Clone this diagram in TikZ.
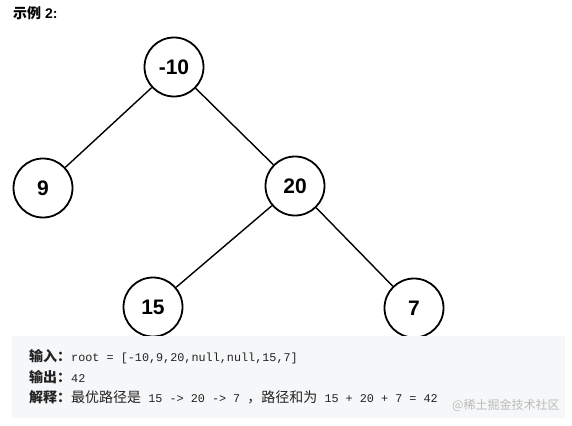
\documentclass[tikz,border=0pt]{standalone}
\usepackage{fontspec}
\setmainfont{Liberation Sans}
\setmonofont{Liberation Mono}
\newfontfamily\cjk{Noto Sans CJK SC}
\definecolor{boxgray}{HTML}{F6F7F8}
\definecolor{markgray}{HTML}{BBBBBB}
\definecolor{codeink}{HTML}{222222}
\newcommand\zh[1]{{\cjk\fontsize{14}{14}\selectfont #1}}
\begin{document}
\begin{tikzpicture}[
        x=1pt, y=-1pt,
        treenode/.style={draw, circle, line width=1.8pt, fill=white, minimum size=59pt, inner sep=0pt, font=\fontsize{21}{21}\selectfont\bfseries},
        edge/.style={line width=1.4pt},
        line/.style={anchor=west, inner sep=0pt, font=\fontsize{11.8}{13}\selectfont\ttfamily, text=codeink},
    ]
        \useasboundingbox (0,0) rectangle (572,425);

        \node[anchor=west, inner sep=0pt, font=\fontsize{14}{16}\selectfont] (title) at (13,13) {{\cjk\bfseries 示例} \textbf{2:}};

        \node[treenode] (root) at (174,67) {-10};
        \node[treenode] (left) at (43,188) {9};
        \node[treenode] (right) at (295,186) {20};
        \node[treenode] (rl) at (153,307) {15};
        \node[treenode] (rr) at (414,308) {7};

        \draw[edge] (root) -- (left);
        \draw[edge] (root) -- (right);
        \draw[edge] (right) -- (rl);
        \draw[edge] (right) -- (rr);

        \fill[boxgray] (12,336) rectangle (565,418);

        \node[line] (input) at (29,357) {\zh{\bfseries 输入：}root = [-10,9,20,null,null,15,7]};
        \node[line] (output) at (29,377) {\zh{\bfseries 输出：}42};
        \node[line] (explain) at (29,397) {\zh{\bfseries 解释：}\zh{最优路径是} 15 -> 20 -> 7 \zh{，路径和为} 15 + 20 + 7 = 42};
        \node[anchor=west, inner sep=0pt, font=\fontsize{12}{12}\selectfont, text=markgray] (mark) at (452,405) {{\cjk @稀土掘金技术社区}};
    \end{tikzpicture}
\end{document}
